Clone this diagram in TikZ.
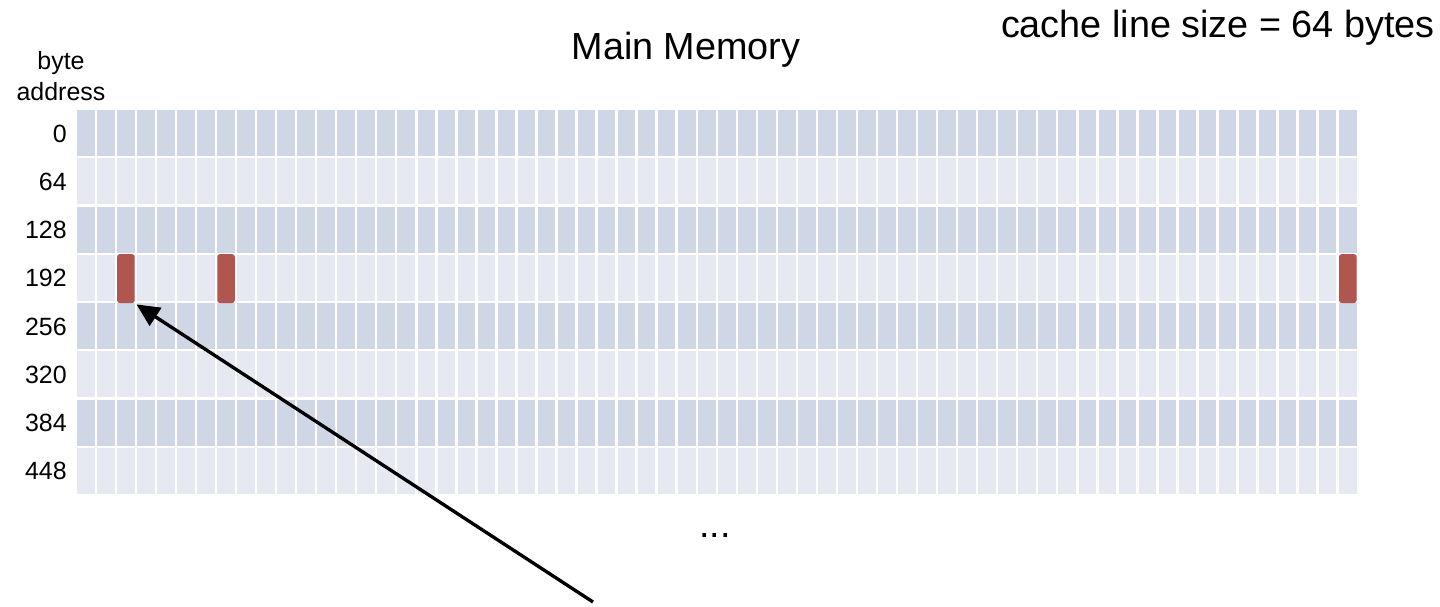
\documentclass[tikz,border=0pt]{standalone}
\usepackage{fontspec}
\setmainfont{Liberation Sans}
\usetikzlibrary{arrows.meta,calc}

\definecolor{rowdark}{RGB}{207,214,229}
\definecolor{rowlight}{RGB}{230,233,241}
\definecolor{hitred}{RGB}{177,85,79}

\begin{document}
\begin{tikzpicture}[x=0.02cm,y=-0.02cm,
    addr/.style={anchor=base east, inner sep=0pt, font=\fontsize{14.2}{17}\selectfont},
    hit/.style={fill=hitred, rounded corners=1.5pt, minimum width=0.35cm, minimum height=0.98cm, inner sep=0pt},
    pointer/.style={line width=1.9pt, -{Triangle[length=13pt,width=12pt]}, shorten >=1pt}]
    \useasboundingbox (0,0) rectangle (1440,606);
    % one row per cache line, 64 bytes each
    \foreach \r in {0,...,7} {
        \pgfmathsetmacro{\ytop}{110+48.25*\r}
        \ifodd\r \def\rowcol{rowlight}\else \def\rowcol{rowdark}\fi
        \foreach \c in {0,...,63}
            \fill[\rowcol] (77+20.03*\c,\ytop) rectangle ++(17.6,46);
        \pgfmathtruncatemacro{\addr}{64*\r}
        \node[addr] (lbl\r) at (67,\ytop+32) {\addr};
    }
    % accessed bytes in line 192
    \node[hit] (hitA) at (125.9,278.6) {};
    \node[hit] (hitB) at (226.0,278.6) {};
    \node[hit] (hitC) at (1347.8,278.6) {};
    \node[anchor=base, inner sep=0pt, align=center, font=\fontsize{14.2}{17.4}\selectfont] (bytehdr) at (61,100) {byte\\address};
    \node[anchor=base, inner sep=0pt, font=\fontsize{21.5}{26}\selectfont] (title) at (686,59) {Main Memory};
    \node[anchor=base east, inner sep=0pt, font=\fontsize{21.5}{26}\selectfont] (linesize) at (1435,37.5) {cache line size = 64 bytes};
    \node[anchor=base, inner sep=0pt, font=\fontsize{21.5}{26}\selectfont] (more) at (715,537) {...};
    \coordinate (tail) at (593,602);
    \draw[pointer] (tail) -- (hitA.south east);
\end{tikzpicture}
\end{document}
